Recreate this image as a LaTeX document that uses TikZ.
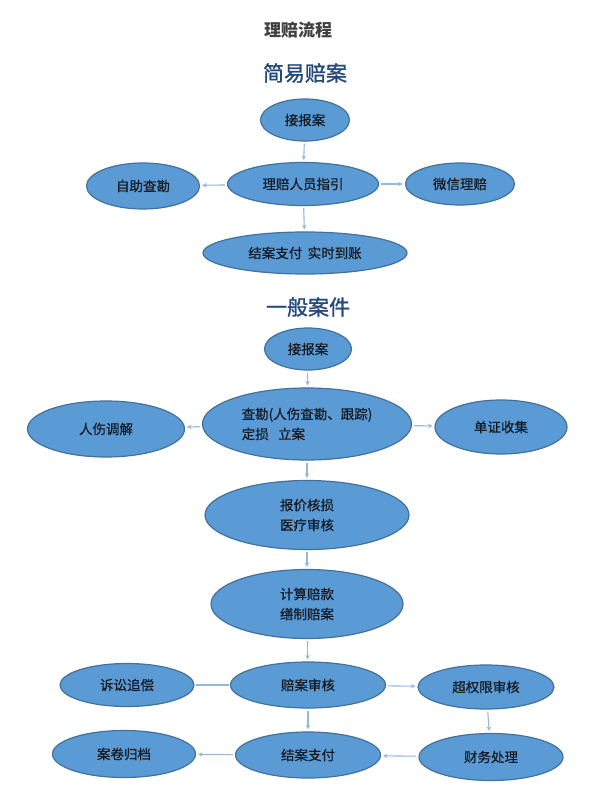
\documentclass[tikz,border=0pt]{standalone}
\usepackage{fontspec}
\setmainfont{Noto Sans CJK SC}
\newfontfamily\ellfont{Noto Sans CJK SC}[FakeBold=0.5]
\newfontfamily\headfont{Noto Sans CJK SC}[FakeBold=1.2]
\usetikzlibrary{shapes.geometric,arrows.meta}
\definecolor{ellfill}{HTML}{5B9BD5}
\definecolor{elldraw}{HTML}{41719C}
\definecolor{arr}{HTML}{95B8DD}
\definecolor{headblue}{HTML}{24497D}
\definecolor{titlegray}{HTML}{404040}
\definecolor{ink}{HTML}{161A22}
\begin{document}
\begin{tikzpicture}[x=1bp,y=-1bp,
  ell/.style={ellipse, draw=elldraw, fill=ellfill, line width=1.2bp, inner sep=0pt,
    font=\ellfont\fontsize{13.5bp}{20bp}\selectfont, text=ink, align=center},
  arrowline/.style={draw=arr, line width=1.1bp, -{Stealth[length=4.5bp,width=4.5bp]},
    shorten >=2bp, shorten <=2bp},
  plainline/.style={draw=arr, line width=1.1bp, shorten >=1bp, shorten <=1bp},
  heading/.style={font=\headfont\fontsize{21bp}{24bp}\selectfont, text=headblue, inner sep=0pt},
  titletext/.style={font=\bfseries\fontsize{17bp}{20bp}\selectfont, text=titlegray, inner sep=0pt}]
\fill[white] (0,0) rectangle (600,801);
\useasboundingbox (0,0) rectangle (600,801);

\node[titletext] (title) at (298,30) {理赔流程};
\node[heading] (h1) at (305,73) {简易赔案};

\node[ell, minimum width=89bp, minimum height=42bp] (a1) at (305,120) {接报案};
\node[ell, minimum width=151bp, minimum height=43bp] (a2) at (303,184) {理赔人员指引};
\node[ell, minimum width=113bp, minimum height=46bp] (a3) at (143,186) {自助查勘};
\node[ell, minimum width=109bp, minimum height=42bp] (a4) at (460,184) {微信理赔};
\node[ell, minimum width=204bp, minimum height=42bp] (a5) at (305,253) {结案支付\hspace{0.4em}实时到账};

\node[heading] (h2) at (308,307) {一般案件};

\node[ell, minimum width=87bp, minimum height=42bp] (b1) at (308,349) {接报案};
\node[ell, minimum width=209bp, minimum height=72bp, align=left] (b2) at (307,424) {查勘(人伤查勘、跟踪)\\定损\hspace{0.7em}立案};
\node[ell, minimum width=157bp, minimum height=56bp] (b3) at (106,429) {人伤调解};
\node[ell, minimum width=132bp, minimum height=54bp] (b4) at (501,427) {单证收集};
\node[ell, minimum width=204bp, minimum height=69bp] (b5) at (307,515) {报价核损\\医疗审核};
\node[ell, minimum width=192bp, minimum height=69bp] (b6) at (307,604) {计算赔款\\缮制赔案};
\node[ell, minimum width=155bp, minimum height=46bp] (b7) at (308,685) {赔案审核};
\node[ell, minimum width=134bp, minimum height=43bp] (b8) at (127,685) {诉讼追偿};
\node[ell, minimum width=136bp, minimum height=44bp] (b9) at (486,687) {超权限审核};
\node[ell, minimum width=145bp, minimum height=46bp] (b10) at (308,755) {结案支付};
\node[ell, minimum width=143bp, minimum height=47bp] (b11) at (124,754) {案卷归档};
\node[ell, minimum width=144bp, minimum height=47bp] (b12) at (491,757) {财务处理};

\draw[arrowline] (a1) -- (a2);
\draw[arrowline] (a2) -- (a3);
\draw[arrowline] (a2) -- (a4);
\draw[arrowline] (a2) -- (a5);

\draw[arrowline] (b1) -- (b2);
\draw[arrowline] (b2) -- (b3);
\draw[arrowline] (b2) -- (b4);
\draw[arrowline] (b2) -- (b5);
\draw[arrowline] (b5) -- (b6);
\draw[arrowline] (b6) -- (b7);
\draw[plainline] (b7) -- (b8);
\draw[arrowline] (b7) -- (b9);
\draw[arrowline] (b9) -- (b12);
\draw[arrowline] (b7) -- (b10);
\draw[arrowline] (b12) -- (b10);
\draw[arrowline] (b10) -- (b11);
\end{tikzpicture}
\end{document}
